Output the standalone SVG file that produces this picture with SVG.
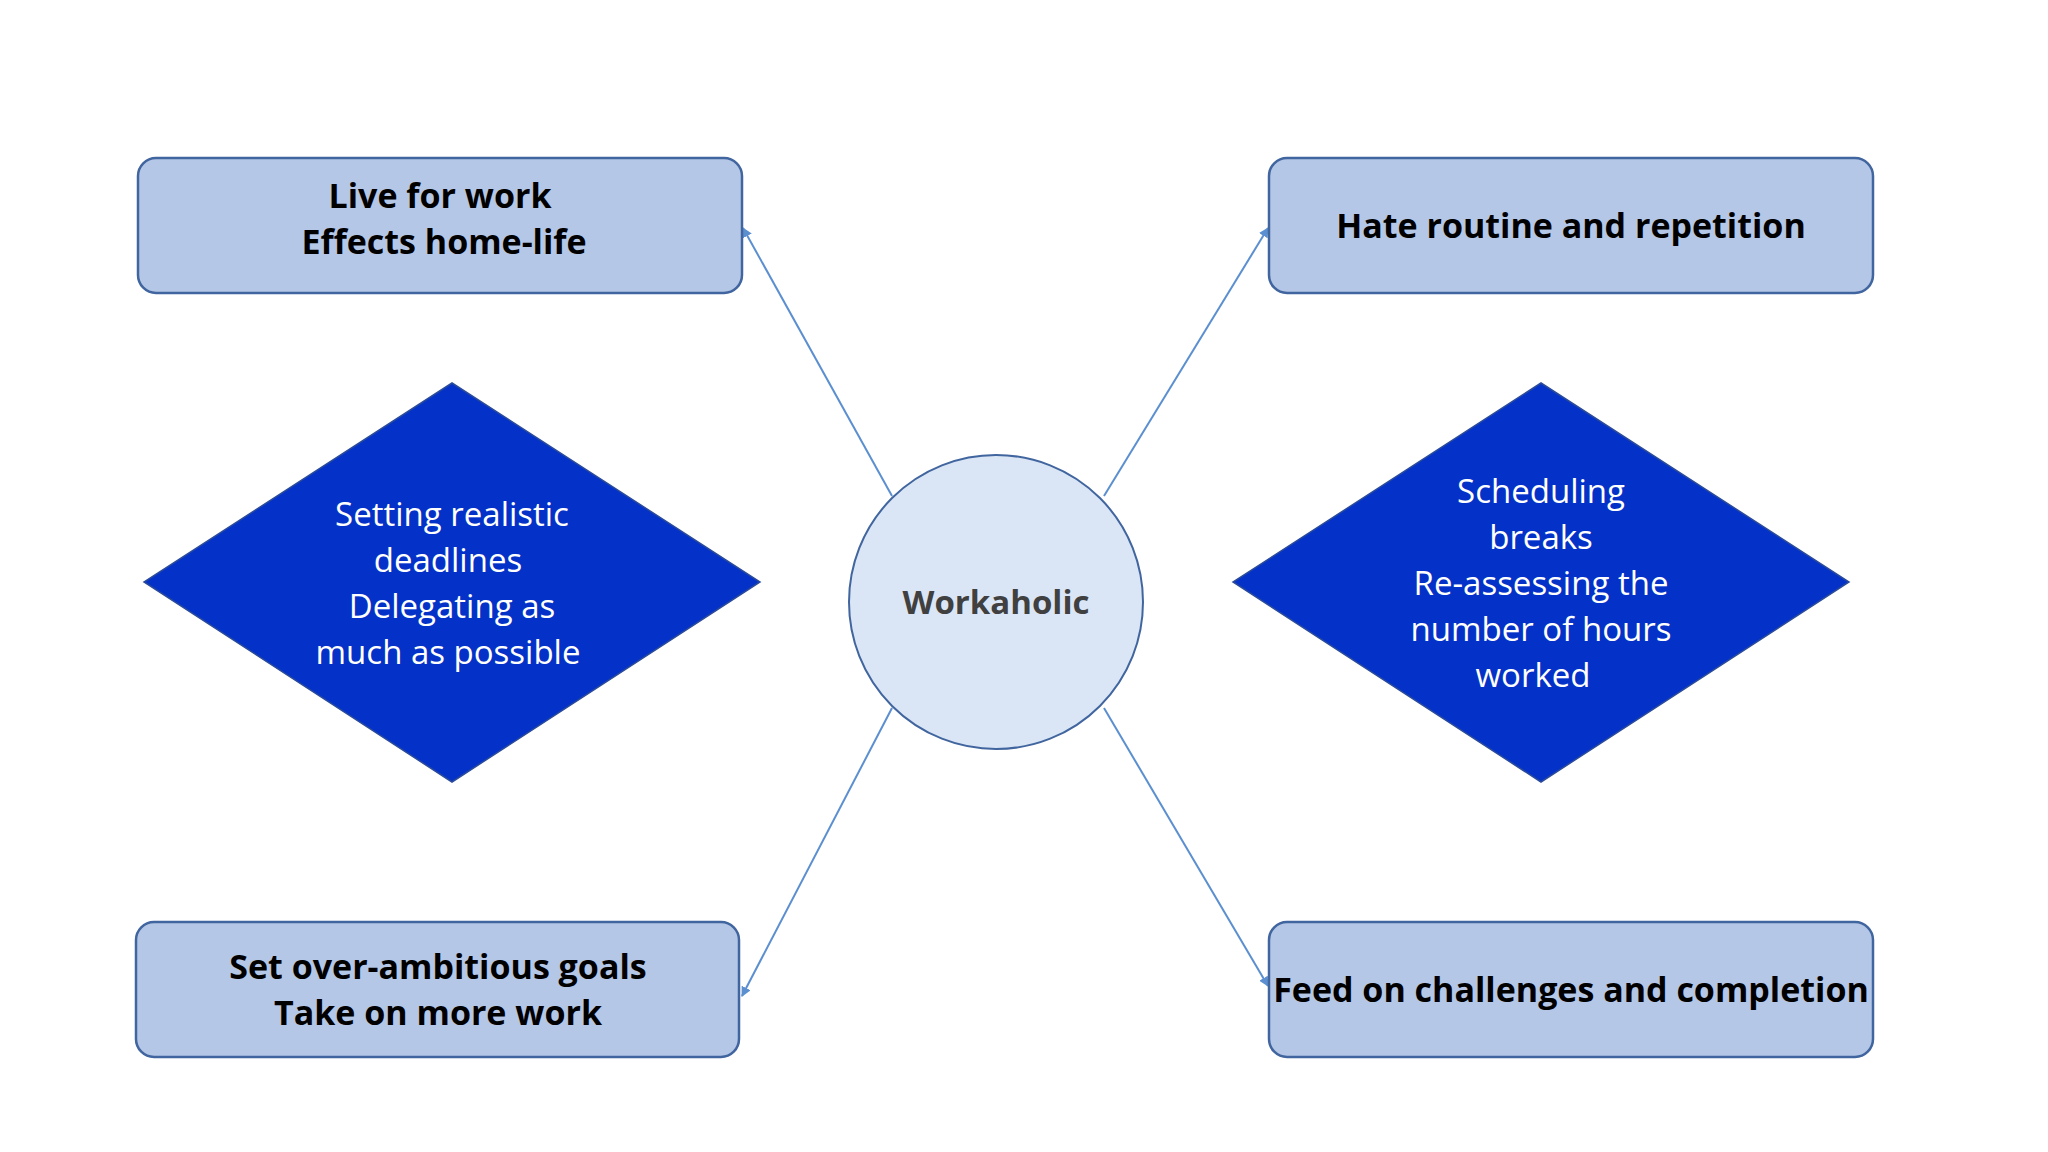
<svg xmlns="http://www.w3.org/2000/svg" width="2048" height="1152" viewBox="0 0 2048 1152">
<style>
.box{fill:#b4c7e7;stroke:#41659e;stroke-width:2.5}
.dia{fill:#0432c8;stroke:#2a4a9a;stroke-width:1.5}
.bt{font-family:"Open Sans","Liberation Sans",sans-serif;font-weight:bold;font-size:34px;fill:#000;text-anchor:middle}
.dt{font-family:"Open Sans","Liberation Sans",sans-serif;font-size:33px;fill:#fff;text-anchor:middle}
.con{stroke:#5b8fd0;stroke-width:2;fill:none;marker-end:url(#a)}
</style>
<defs>
<marker id="a" viewBox="0 0 10 10" refX="9" refY="5" markerWidth="5" markerHeight="5" orient="auto"><path d="M0,0L10,5L0,10z" fill="#5b8fd0"/></marker>
</defs>
<rect width="2048" height="1152" fill="#fff"/>
<g id="connectors">
<line class="con" x1="892" y1="496" x2="743" y2="228"/>
<line class="con" x1="1104" y1="496" x2="1268" y2="228"/>
<line class="con" x1="892" y1="708" x2="742" y2="996"/>
<line class="con" x1="1104" y1="708" x2="1268" y2="986"/>
</g>
<g id="n1"><rect class="box" x="138" y="158" width="604" height="135" rx="18"/>
<text class="bt" x="440" y="208">Live for work</text><text class="bt" x="444" y="254">Effects home-life</text></g>
<g id="n2"><rect class="box" x="1269" y="158" width="604" height="135" rx="18"/>
<text class="bt" x="1571" y="238">Hate routine and repetition</text></g>
<g id="n3"><rect class="box" x="136" y="922" width="603" height="135" rx="18"/>
<text class="bt" x="438" y="979">Set over-ambitious goals</text><text class="bt" x="438" y="1025">Take on more work</text></g>
<g id="n4"><rect class="box" x="1269" y="922" width="604" height="135" rx="18"/>
<text class="bt" x="1571" y="1002">Feed on challenges and completion</text></g>
<g id="n5"><polygon class="dia" points="452,383 760,582 452,782 144,582"/>
<text class="dt" x="452" y="526">Setting realistic</text><text class="dt" x="448" y="572">deadlines</text><text class="dt" x="452" y="618">Delegating as</text><text class="dt" x="448" y="664">much as possible</text></g>
<g id="n6"><polygon class="dia" points="1541,383 1849,582 1541,782 1233,582"/>
<text class="dt" x="1541" y="503">Scheduling</text><text class="dt" x="1541" y="549">breaks</text><text class="dt" x="1541" y="595">Re-assessing the</text><text class="dt" x="1541" y="641">number of hours</text><text class="dt" x="1533" y="687">worked</text></g>
<g id="n7"><circle cx="996" cy="602" r="147" fill="#dae6f5" stroke="#41659e" stroke-width="2"/>
<text x="996" y="614" font-family="'Open Sans','Liberation Sans',sans-serif" font-weight="bold" font-size="33" fill="#404040" text-anchor="middle">Workaholic</text></g>
</svg>
